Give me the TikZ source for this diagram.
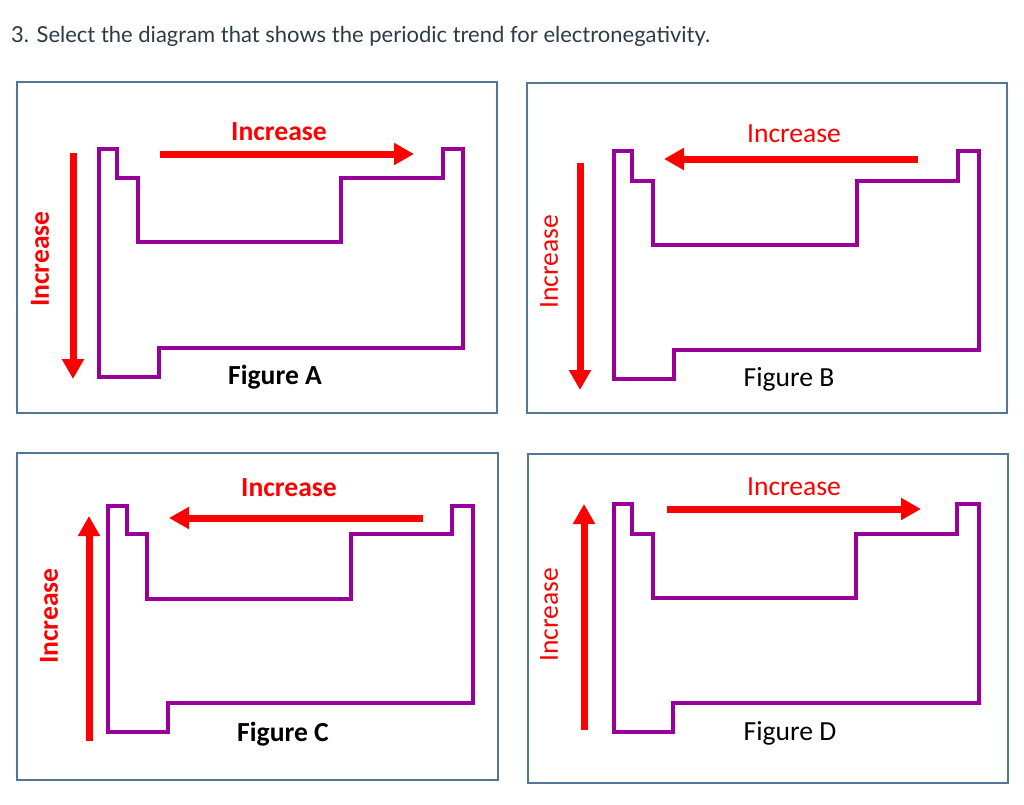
\documentclass[tikz,border=0pt]{standalone}
\usepackage{fontspec}
\setmainfont{Carlito}
\newfontfamily\latofont{Lato}
\usetikzlibrary{arrows.meta}
\definecolor{framec}{RGB}{84,118,150}
\definecolor{ptpurple}{RGB}{153,0,153}
\definecolor{titlec}{RGB}{45,59,69}
\definecolor{arrred}{RGB}{255,0,0}
\begin{document}
\begin{tikzpicture}[x=1pt,y=-1pt,
  panel/.style={draw=framec,line width=1.3pt},
  ptable/.style={draw=ptpurple,line width=4pt,line join=miter},
  trend/.style={draw=arrred,line width=7pt,-{Triangle[length=20pt,width=21pt]}},
  lblbold/.style={text=arrred,font=\fontsize{27.6}{31}\selectfont\bfseries,inner sep=0pt},
  lblreg/.style={text=arrred,font=\fontsize{27.6}{31}\selectfont,inner sep=0pt},
  figbold/.style={text=black,font=\fontsize{27.6}{31}\selectfont\bfseries,inner sep=0pt},
  figreg/.style={text=black,font=\fontsize{27.6}{31}\selectfont,inner sep=0pt}]
\useasboundingbox[fill=white] (0,0) rectangle (1024,804);
% title
\node[anchor=west,inner sep=0pt,text=titlec,font=\latofont\fontsize{22}{26}\selectfont] (title) at (11,36) {3. Select the diagram that shows the periodic trend for electronegativity.};
% frames
\draw[panel] (17,82) rectangle (497,413);
\draw[panel] (527,83) rectangle (1007,413);
\draw[panel] (17,453) rectangle (498,780);
\draw[panel] (528,454) rectangle (1008,783);
% ---- Figure A ----
\draw[ptable] (99,149) -- (117,149) -- (117,178) -- (138,178) -- (138,242) -- (341,242) -- (341,178) -- (443,178) -- (443,149) -- (463,149) -- (463,348) -- (159,348) -- (159,377) -- (99,377) -- cycle;
\coordinate (a1) at (160,154);
\coordinate (a2) at (414,154);
\coordinate (a3) at (73,153);
\coordinate (a4) at (73,379);
\draw[trend] (a1) -- (a2);
\draw[trend] (a3) -- (a4);
\node[lblbold] (atop) at (279,132) {Increase};
\node[lblbold,rotate=90] (aside) at (40,259) {Increase};
\node[figbold] (afig) at (275,377) {Figure A};
% ---- Figure B ----
\draw[ptable] (614,151) -- (632,151) -- (632,181) -- (653,181) -- (653,245) -- (857,245) -- (857,181) -- (958,181) -- (958,151) -- (979,151) -- (979,350) -- (674,350) -- (674,379) -- (614,379) -- cycle;
\coordinate (b1) at (918,159);
\coordinate (b2) at (664,159);
\coordinate (b3) at (580,163);
\coordinate (b4) at (580,390);
\draw[trend] (b1) -- (b2);
\draw[trend] (b3) -- (b4);
\node[lblreg] (btop) at (794,134) {Increase};
\node[lblreg,rotate=90] (bside) at (549,262) {Increase};
\node[figreg] (bfig) at (789,379) {Figure B};
% ---- Figure C ----
\draw[ptable] (108,506) -- (127,506) -- (127,534) -- (147,534) -- (147,599) -- (351,599) -- (351,534) -- (452,534) -- (452,506) -- (473,506) -- (473,703) -- (168,703) -- (168,732) -- (108,732) -- cycle;
\coordinate (c1) at (423,518);
\coordinate (c2) at (169,518);
\coordinate (c3) at (89,741);
\coordinate (c4) at (89,516);
\draw[trend] (c1) -- (c2);
\draw[trend] (c3) -- (c4);
\node[lblbold] (ctop) at (289,488) {Increase};
\node[lblbold,rotate=90] (cside) at (49,616) {Increase};
\node[figbold] (cfig) at (283,734) {Figure C};
% ---- Figure D ----
\draw[ptable] (614,504) -- (632,504) -- (632,534) -- (653,534) -- (653,598) -- (856,598) -- (856,534) -- (957,534) -- (957,504) -- (979,504) -- (979,703) -- (673,703) -- (673,732) -- (614,732) -- cycle;
\coordinate (d1) at (667,509);
\coordinate (d2) at (921,509);
\coordinate (d3) at (584,730);
\coordinate (d4) at (584,504);
\draw[trend] (d1) -- (d2);
\draw[trend] (d3) -- (d4);
\node[lblreg] (dtop) at (794,487) {Increase};
\node[lblreg,rotate=90] (dside) at (549,615) {Increase};
\node[figreg] (dfig) at (790,733) {Figure D};
\end{tikzpicture}
\end{document}
